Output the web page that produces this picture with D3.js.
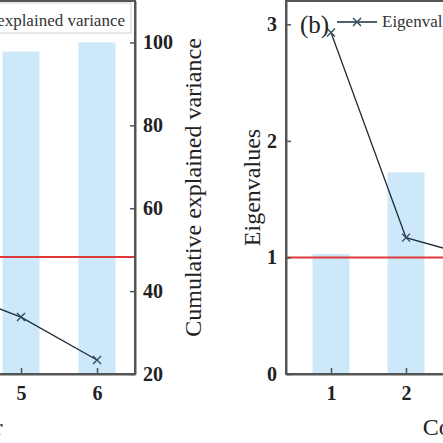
<!DOCTYPE html>
<html>
<head>
<meta charset="utf-8">
<script src="https://cdn.jsdelivr.net/npm/d3@7"></script>
<style>
  body { margin: 0; background: #fff; }
  svg { display: block; font-family: "Liberation Serif", "Times New Roman", serif; }
</style>
</head>
<body>
<div class="container"></div>
<script>
const w = 443, h = 443;

// data (off-screen values estimated)
const components = [1, 2, 3, 4, 5, 6];
const explainedVar = [48.8, 19.5, 16.5, 12.3, 8.1, 2.0];
const cumulativeVar = [48.8, 68.3, 84.8, 93.0, 97.8, 100];
const eigenvalues = [2.93, 1.17, 0.99, 0.74, 0.49, 0.13];
const eigenBars = [1.03, 1.73, 1.2, 0.9, 0.7, 0.5];
const cumTicks = [20, 40, 60, 80, 100];
const eigenTicks = [0, 1, 2, 3];
const threshold = 100 / 6;   // % equivalent of eigenvalue 1
const eigenThreshold = 1;

const plotTop = 1, plotBottom = 374;
const axisColor = "#555", barColor = "#cde8f8", redColor = "#e0393a";
const lineColor = "#1d2d3a", markColor = "#2e4b5c";

const svg = d3.select(".container")
  .append("svg")
  .attr("width", w)
  .attr("height", h)
  .attr("viewBox", [0, 0, w, h]);

// ---------- panel (a), mostly cut off on the left ----------
const xA = d3.scaleLinear().domain([0.5, 6.5]).range([-321, 135]);
const yCum = d3.scaleLinear().domain([20, 110]).range([plotBottom, plotTop]);
const yExp = d3.scaleLinear().domain([0, 53.1]).range([plotBottom, plotTop]);

const gA = svg.append("g");

gA.selectAll("rect.bar")
  .data(components)
  .join("rect")
  .attr("class", "bar")
  .attr("x", d => xA(d) - 18.5)
  .attr("width", 37)
  .attr("y", (d, i) => yCum(cumulativeVar[i]))
  .attr("height", (d, i) => yCum(20) - yCum(cumulativeVar[i]))
  .attr("fill", barColor);

gA.append("line")
  .attr("x1", xA(0.5)).attr("x2", xA(6.5))
  .attr("y1", yExp(threshold)).attr("y2", yExp(threshold))
  .attr("stroke", redColor).attr("stroke-width", 2);

gA.append("path")
  .datum(components)
  .attr("fill", "none")
  .attr("stroke", lineColor)
  .attr("stroke-width", 1.3)
  .attr("d", d3.line().x(d => xA(d)).y((d, i) => yExp(explainedVar[i])));

// frame
gA.append("rect")
  .attr("x", xA(0.5)).attr("y", plotTop)
  .attr("width", xA(6.5) - xA(0.5)).attr("height", plotBottom - plotTop)
  .attr("fill", "none").attr("stroke", axisColor).attr("stroke-width", 2);

// legend box
gA.append("rect")
  .attr("x", -260).attr("y", 3).attr("width", 391).attr("height", 30)
  .attr("fill", "none").attr("stroke", "#d0d0d0").attr("stroke-width", 1);
gA.append("text")
  .attr("x", 125).attr("y", 26)
  .attr("text-anchor", "end")
  .attr("font-size", 17)
  .attr("fill", "#333")
  .text("Cumulative explained variance");

// ---------- panel (b), cut off on the right ----------
const xB = d3.scaleLinear().domain([0.4, 6.6]).range([286, 751]);
const yB = d3.scaleLinear().domain([0, 3.2]).range([plotBottom, plotTop]);

const gB = svg.append("g");

gB.selectAll("rect.bar")
  .data(components)
  .join("rect")
  .attr("class", "bar")
  .attr("x", d => xB(d) - 18.5)
  .attr("width", 37)
  .attr("y", (d, i) => yB(eigenBars[i]))
  .attr("height", (d, i) => yB(0) - yB(eigenBars[i]))
  .attr("fill", barColor);

gB.append("line")
  .attr("x1", xB(0.4)).attr("x2", xB(6.6))
  .attr("y1", yB(eigenThreshold)).attr("y2", yB(eigenThreshold))
  .attr("stroke", redColor).attr("stroke-width", 2);

gB.append("path")
  .datum(components)
  .attr("fill", "none")
  .attr("stroke", lineColor)
  .attr("stroke-width", 1.3)
  .attr("d", d3.line().x(d => xB(d)).y((d, i) => yB(eigenvalues[i])));

gB.append("rect")
  .attr("x", xB(0.4)).attr("y", plotTop)
  .attr("width", xB(6.6) - xB(0.4)).attr("height", plotBottom - plotTop)
  .attr("fill", "none").attr("stroke", axisColor).attr("stroke-width", 2);

// markers
const cross = s => `M${-s},${-s}L${s},${s}M${-s},${s}L${s},${-s}`;
gA.selectAll("path.mark")
  .data(components)
  .join("path")
  .attr("class", "mark")
  .attr("transform", (d, i) => `translate(${xA(d)},${yExp(explainedVar[i])})`)
  .attr("d", cross(4))
  .attr("stroke", markColor).attr("stroke-width", 1.4).attr("fill", "none");
gB.selectAll("path.mark")
  .data(components)
  .join("path")
  .attr("class", "mark")
  .attr("transform", (d, i) => `translate(${xB(d)},${yB(eigenvalues[i])})`)
  .attr("d", cross(4))
  .attr("stroke", markColor).attr("stroke-width", 1.4).attr("fill", "none");

// legend (b)
gB.append("text")
  .attr("x", 300).attr("y", 33)
  .attr("font-size", 25)
  .attr("fill", "#222")
  .text("(b)");
gB.append("line")
  .attr("x1", 337).attr("x2", 377).attr("y1", 22).attr("y2", 22)
  .attr("stroke", lineColor).attr("stroke-width", 1.3);
gB.append("path")
  .attr("transform", "translate(357,22)")
  .attr("d", cross(4))
  .attr("stroke", markColor).attr("stroke-width", 1.4);
gB.append("text")
  .attr("x", 382).attr("y", 27)
  .attr("font-size", 17)
  .attr("fill", "#333")
  .text("Eigenvalues");

// ---------- axes ----------
function styleAxis(g) {
  g.select(".domain").attr("stroke", axisColor).attr("stroke-width", 2);
  g.selectAll(".tick line").attr("stroke", axisColor).attr("stroke-width", 1.5);
  g.selectAll(".tick text")
    .attr("fill", "#222")
    .attr("font-size", 20)
    .attr("font-weight", "bold")
    .attr("font-family", "Liberation Serif, serif");
}

const fmt = d3.format("d");

svg.append("g")
  .attr("transform", `translate(135,0)`)
  .call(d3.axisRight(yCum).tickValues(cumTicks).tickFormat(fmt).tickSize(-5).tickSizeOuter(0).tickPadding(8))
  .call(styleAxis);

svg.append("g")
  .attr("transform", `translate(0,${plotBottom})`)
  .call(d3.axisBottom(xA).tickValues(components).tickFormat(fmt).tickSize(-6).tickSizeOuter(0).tickPadding(12))
  .call(styleAxis);

svg.append("g")
  .attr("transform", `translate(286,0)`)
  .call(d3.axisLeft(yB).tickValues(eigenTicks).tickFormat(fmt).tickSize(-5).tickSizeOuter(0).tickPadding(9))
  .call(styleAxis);

svg.append("g")
  .attr("transform", `translate(0,${plotBottom})`)
  .call(d3.axisBottom(xB).tickValues(components).tickFormat(fmt).tickSize(-6).tickSizeOuter(0).tickPadding(12))
  .call(styleAxis);

// axis titles
svg.append("text")
  .attr("transform", "translate(201,187.5) rotate(-90)")
  .attr("text-anchor", "middle")
  .attr("font-size", 24)
  .attr("fill", "#222")
  .text("Cumulative explained variance");

svg.append("text")
  .attr("transform", "translate(260,187.5) rotate(-90)")
  .attr("text-anchor", "middle")
  .attr("font-size", 24)
  .attr("fill", "#222")
  .text("Eigenvalues");

svg.append("text")
  .attr("x", xA(3.5)).attr("y", 435)
  .attr("text-anchor", "middle")
  .attr("font-size", 24)
  .attr("fill", "#222")
  .text("Component number");

svg.append("text")
  .attr("x", xB(3.5)).attr("y", 435)
  .attr("text-anchor", "middle")
  .attr("font-size", 24)
  .attr("fill", "#222")
  .text("Component number");
</script>
</body>
</html>
